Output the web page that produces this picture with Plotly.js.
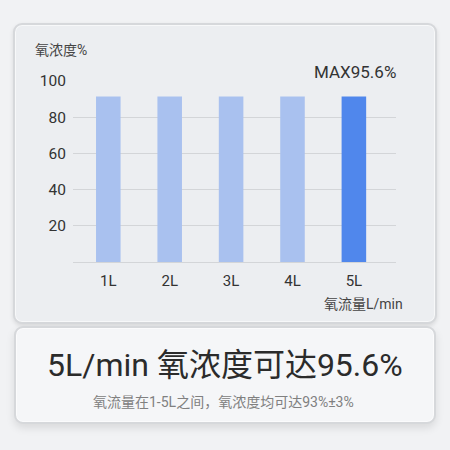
<!DOCTYPE html>
<html>
<head>
<meta charset="utf-8">
<script src="https://cdn.plot.ly/plotly-3.0.1.min.js"></script>
<style>
  html, body { margin:0; padding:0; background:#f1f2f4; width:450px; height:450px; overflow:hidden; }
  .panel { position:absolute; box-sizing:border-box; border-radius:9px; }
  #p1 { left:13px; top:23px; width:424px; height:301px; background:#eceef1;
        border:2px solid #d6d8db; box-shadow: inset 0 0 0 1px #f7f8f9, 0 2px 4px rgba(0,0,0,0.10); }
  #p2 { left:14px; top:326px; width:422px; height:98px; background:#f5f6f8;
        border:2px solid #d6d8db; box-shadow: inset 0 0 0 1px #fbfbfc, 0 4px 8px rgba(0,0,0,0.10); }
  #chart { position:absolute; left:0; top:0; width:450px; height:450px; }
</style>
</head>
<body>
<div class="panel" id="p1"></div>
<div class="panel" id="p2"></div>
<div id="chart"></div>
<script>
// ---- data ----
const categories = ["1L", "2L", "3L", "4L", "5L"];
const concentration = [91.5, 91.5, 91.5, 91.5, 91.5];
const yTickValues = [20, 40, 60, 80, 100];
const yAxisTitle = "氧浓度%";
const xAxisTitle = "氧流量L/min";
const maxLabel = "MAX95.6%";
const headline = "5L/min 氧浓度可达95.6%";
const subline = "氧流量在1-5L之间，氧浓度均可达93%±3%";
const barColors = ["#a9c1ef", "#a9c1ef", "#a9c1ef", "#a9c1ef", "#5087ec"];

// ---- layout helpers (pixel -> paper) ----
const M = {l:73, r:54, t:81, b:188};
const PW = 450 - M.l - M.r, PH = 450 - M.t - M.b;
const px = x => (x - M.l) / PW;
const py = y => (450 - M.b - y) / PH;

const font = "Roboto, Noto Sans CJK SC, sans-serif";

const trace = {
  type: "bar",
  x: categories,
  y: concentration,
  marker: {color: barColors},
  width: 0.4,
  hoverinfo: "skip"
};

const layout = {
  width: 450, height: 450,
  margin: M,
  paper_bgcolor: "rgba(0,0,0,0)",
  plot_bgcolor: "rgba(0,0,0,0)",
  showlegend: false,
  font: {family: font, color: "#333"},
  xaxis: {
    type: "category",
    range: [-0.575, 4.686],
    showgrid: false, showline: false, zeroline: false,
    ticks: "", ticklabelstandoff: 8,
    tickfont: {size: 15, color: "#333", family: font}
  },
  yaxis: {
    range: [0, 100],
    tickvals: yTickValues,
    showgrid: true, gridcolor: "#d3d5d8", gridwidth: 1,
    zeroline: true, zerolinecolor: "#d3d5d8", zerolinewidth: 1,
    showline: false, ticks: "", ticklabelstandoff: 6,
    tickfont: {size: 15.5, color: "#333", family: font}
  },
  annotations: [
    {text: yAxisTitle, xref: "paper", yref: "paper", x: px(33), y: py(50),
     xanchor: "left", yanchor: "middle", showarrow: false,
     font: {size: 14, color: "#444", family: font}},
    {text: maxLabel, xref: "paper", yref: "paper", x: px(398), y: py(72),
     xanchor: "right", yanchor: "middle", showarrow: false,
     font: {size: 17, color: "#333", family: font}},
    {text: xAxisTitle, xref: "paper", yref: "paper", x: px(405), y: py(304),
     xanchor: "right", yanchor: "middle", showarrow: false,
     font: {size: 14, color: "#444", family: font}},
    {text: headline, xref: "paper", yref: "paper", x: px(224.5), y: py(365),
     xanchor: "center", yanchor: "middle", showarrow: false,
     font: {size: 32, color: "#2b2b2b", family: font}},
    {text: subline, xref: "paper", yref: "paper", x: px(223), y: py(402),
     xanchor: "center", yanchor: "middle", showarrow: false,
     font: {size: 14, color: "#808080", family: font}}
  ]
};

Plotly.newPlot("chart", [trace], layout, {staticPlot: true, displayModeBar: false});
</script>
</body>
</html>
